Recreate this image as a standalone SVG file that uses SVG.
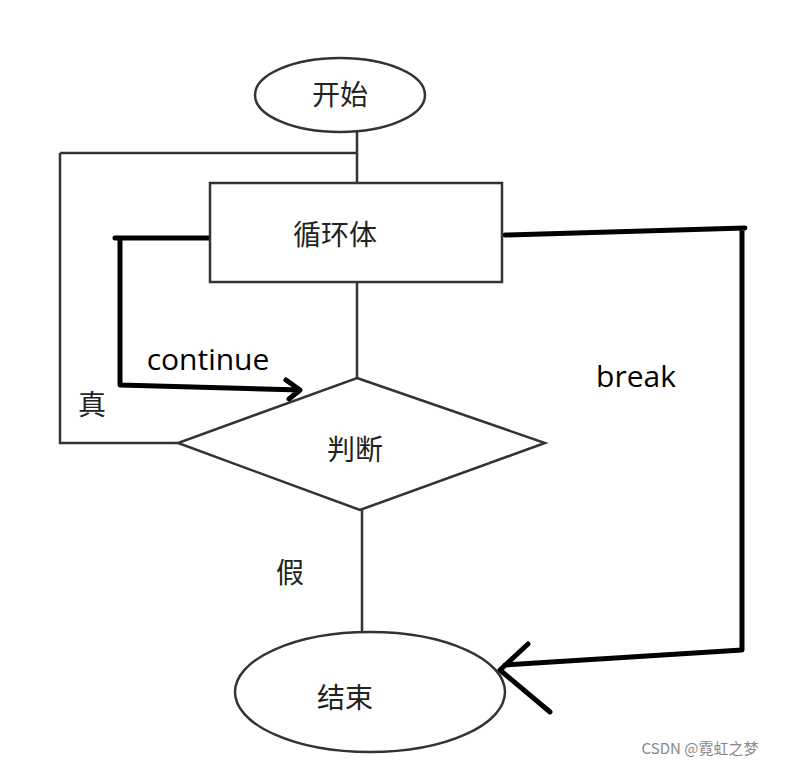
<svg xmlns="http://www.w3.org/2000/svg" width="787" height="767" viewBox="0 0 787 767">
<style>
.s{fill:#fff;stroke:#333;stroke-width:2.5}
.l{fill:none;stroke:#333;stroke-width:2.5}
.h{fill:none;stroke:#000;stroke-width:5;stroke-linecap:round;stroke-linejoin:round}
.t{font-family:"Noto Sans CJK SC","Liberation Sans",sans-serif;font-size:28px;fill:#222;text-anchor:middle}
.e{font-family:"Open Sans","Liberation Sans",sans-serif;font-size:30px;fill:#000;text-anchor:middle}
</style>
<rect width="787" height="767" fill="#fff"/>
<g id="connectors">
<path class="l" d="M357,132V183M60,153H357M60,153V443H178M357,282V378M362,510V632"/>
<path class="h" d="M228,238H115M120,240V385L300,390M286,380L300,390L289,399"/>
<path class="h" d="M505,235L745,228M742,230V650L505,665M528,644L500,670L550,712"/>
</g>
<g id="start"><ellipse class="s" cx="340" cy="95" rx="85" ry="37"/><text class="t" x="340" y="105">开始</text></g>
<g id="body"><rect class="s" x="210" y="183" width="292" height="99"/><text class="t" x="335" y="245">循环体</text></g>
<g id="judge"><polygon class="s" points="357,378 545,443 360,510 178,443"/><text class="t" x="355" y="460">判断</text></g>
<g id="end"><ellipse class="s" cx="370" cy="692" rx="135" ry="60"/><text class="t" x="345" y="708">结束</text></g>
<text class="t" x="92" y="415">真</text>
<text class="t" x="290" y="583">假</text>
<text class="e" x="208" y="370">continue</text>
<text class="e" x="636" y="387">break</text>
<text x="700" y="754" font-family="Noto Sans CJK SC,sans-serif" font-size="15" fill="#888" text-anchor="middle">CSDN @霓虹之梦</text>
</svg>
